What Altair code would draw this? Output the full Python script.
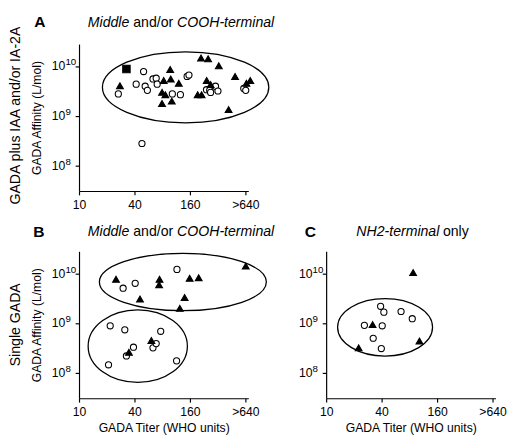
import altair as alt
import pandas as pd

FONT = "Liberation Sans"

# ---------------- data ----------------
# Panel A
a_circle_titer = [26.7, 50.2, 41.7, 52.2, 55.2, 63.5, 68.8, 70.5, 103, 126, 149, 156,
                  242, 262, 268, 303, 322, 614, 645, 48.2]
a_circle_aff = [2.8e9, 7.9e9, 4.4e9, 4.0e9, 3.3e9, 5.6e9, 5.8e9, 4.4e9, 2.8e9, 2.7e9, 6.3e9, 6.7e9,
                3.4e9, 3.3e9, 3.0e9, 4.0e9, 3.2e9, 3.6e9, 3.3e9, 2.8e8]
a_tri_titer = [27.8, 97.6, 83, 99, 121, 79.6, 86.5, 79.6, 101.5, 211, 252, 329,
               243, 268, 194, 214, 494, 420, 656, 722]
a_tri_aff = [4.1e9, 8.7e9, 5.2e9, 5.6e9, 4.6e9, 3.0e9, 2.7e9, 1.8e9, 2.0e9, 1.48e10, 1.43e10, 1.03e10,
             5.2e9, 4.3e9, 2.7e9, 2.7e9, 6.3e9, 1.35e9, 4.6e9, 5.2e9]
a_sq_titer = [32.7]
a_sq_aff = [8.9e9]

# Panel B
b_circle_titer = [30.1, 40.7, 115.6, 21.8, 31.4, 77, 20.9, 32.7, 39, 63.5, 68.8, 114.5]
b_circle_aff = [5.1e9, 6.4e9, 1.22e10, 8.9e8, 7.4e8, 6.9e8, 1.46e8, 2.2e8, 3.3e8, 3.2e8, 3.9e8, 1.75e8]
b_tri_titer = [25.2, 45.9, 74.8, 74, 124, 140, 158.8, 199, 645, 61, 34.8]
b_tri_aff = [7.7e9, 3.1e9, 7.7e9, 6.0e9, 2.0e9, 3.3e9, 8.1e9, 8.3e9, 1.42e10, 4.5e8, 2.6e8]

# Panel C
c_circle_titer = [39, 42.3, 65, 86, 26, 40.6, 32.4, 39.7]
c_circle_aff = [2.2e9, 1.68e9, 1.73e9, 1.24e9, 9.1e8, 8.9e8, 5.0e8, 3.1e8]
c_tri_titer = [87.8, 31.9, 22.5, 103]
c_tri_aff = [1.05e10, 9.4e8, 3.2e8, 4.4e8]

# ellipse centres (titer, affinity)
a_ell_center = [(143.5, 3.8e9)]
b_ell_center = [(134, 6.8e9), (43.4, 3.46e8)]
c_ell_center = [(43.6, 8.3e8)]

x_ticks = [10, 40, 160, 640]
y_ticks = [1e8, 1e9, 1e10]
y_tick_exponents = ["8", "9", "10"]

# ---------------- geometry / style ----------------
W, H = 174, 151
X_DOMAIN = [10, 688]
Y_DOMAIN = [10 ** 7.49, 10 ** 10.451]
a_ell_radii = [(85.5, 36.5)]
b_ell_radii = [(85.8, 29.5), (51, 37.3)]
c_ell_radii = [(48.8, 29.5)]

XSCALE = alt.Scale(type="log", domain=X_DOMAIN, nice=False)
YSCALE = alt.Scale(type="log", domain=Y_DOMAIN, nice=False)


def xenc(title):
    return alt.X("titer:Q", scale=XSCALE,
                 axis=alt.Axis(values=x_ticks,
                               labelExpr="datum.value > 600 ? '>640' : format(datum.value, 'd')",
                               labelFlush=False, labelOverlap=False, grid=False,
                               title=title if title else ""))


def yenc(title):
    return alt.Y("aff:Q", scale=YSCALE,
                 axis=alt.Axis(values=y_ticks, labels=False, grid=False,
                               title=title if title else ""))


def yonly():
    return alt.Y("aff:Q", scale=YSCALE)


def points(ct, ca, tt, ta, st, sa, xt, yt):
    df = pd.DataFrame({
        "titer": list(ct) + list(tt) + list(st),
        "aff": list(ca) + list(ta) + list(sa),
        "kind": ["circle"] * len(ct) + ["triangle"] * len(tt) + ["square"] * len(st),
    })
    kinds = ["circle", "triangle", "square"]
    return alt.Chart(df).mark_point(filled=True, opacity=1, stroke="black", strokeWidth=1.1).encode(
        x=xenc(xt), y=yenc(yt),
        shape=alt.Shape("kind:N", scale=alt.Scale(domain=kinds,
                                                   range=["circle", "triangle-up", "square"]), legend=None),
        fill=alt.Fill("kind:N", scale=alt.Scale(domain=kinds,
                                                 range=["white", "black", "black"]), legend=None),
        size=alt.Size("kind:N", scale=alt.Scale(domain=kinds, range=[40, 58, 36]), legend=None),
    )


def ellipse(center, radii):
    (cx, cy), (rx, ry) = center, radii
    r = ry / rx
    k = 0.5523
    path = (f"M-1,0C-1,{-k*r:.4f},{-k:.4f},{-r:.4f},0,{-r:.4f}"
            f"C{k:.4f},{-r:.4f},1,{-k*r:.4f},1,0"
            f"C1,{k*r:.4f},{k:.4f},{r:.4f},0,{r:.4f}"
            f"C{-k:.4f},{r:.4f},-1,{k*r:.4f},-1,0Z")
    return alt.Chart(pd.DataFrame({"titer": [cx], "aff": [cy]})).mark_point(
        shape=path, size=(2 * rx) ** 2, filled=False, stroke="black", strokeWidth=1.3, opacity=1
    ).encode(x=alt.X("titer:Q", scale=XSCALE), y=yonly())


def ylabels():
    df = pd.DataFrame({"aff": y_ticks, "exp": y_tick_exponents})
    base = alt.Chart(df).mark_text(align="left", baseline="middle", fontSize=12.5, font=FONT,
                                   color="black").encode(
        x=alt.value(-28), y=yonly(), text=alt.value("10"))
    sup = alt.Chart(df).mark_text(align="left", baseline="middle", fontSize=10, font=FONT,
                                  color="black", dy=-4).encode(
        x=alt.value(-14), y=yonly(), text="exp:N")
    return [base, sup]


def text(txt, x, y, size=14.5, italic=False, bold=False, align="left", angle=0, baseline="alphabetic"):
    kw = dict(align=align, baseline=baseline, fontSize=size, font=FONT, color="black",
              fontStyle="italic" if italic else "normal",
              fontWeight="bold" if bold else "normal")
    if angle:
        kw["angle"] = angle
    return alt.Chart(pd.DataFrame({"t": [txt]})).mark_text(**kw).encode(
        x=alt.value(x), y=alt.value(y), text="t:N")


def title_mid_cooh(y):
    return [text("Middle", 9, y, italic=True),
            text("and/or", 55.7, y),
            text("COOH-terminal", 100.8, y, italic=True)]


YT = "GADA Affinity (L/mol)"
XT = "GADA Titer (WHO units)"

# Panel A
A = alt.layer(
    *[ellipse(c, r) for c, r in zip(a_ell_center, a_ell_radii)],
    points(a_circle_titer, a_circle_aff, a_tri_titer, a_tri_aff, a_sq_titer, a_sq_aff, None, YT),
    *ylabels(),
    text("A", -46, -18, size=16, bold=True),
    *title_mid_cooh(-18),
    text("GADA plus IAA and/or IA-2A", -65, H / 2 - 2, size=14.5, align="center", angle=270,
         baseline="middle"),
).properties(width=W, height=H)

# Panel B
B = alt.layer(
    *[ellipse(c, r) for c, r in zip(b_ell_center, b_ell_radii)],
    points(b_circle_titer, b_circle_aff, b_tri_titer, b_tri_aff, [], [], XT, YT),
    *ylabels(),
    text("B", -47, -15, size=16, bold=True),
    *title_mid_cooh(-16),
    text("Single GADA", -65, H / 2, size=14.5, align="center", angle=270, baseline="middle"),
).properties(width=W, height=H)

# Panel C
C = alt.layer(
    *[ellipse(c, r) for c, r in zip(c_ell_center, c_ell_radii)],
    points(c_circle_titer, c_circle_aff, c_tri_titer, c_tri_aff, [], [], XT, None),
    *ylabels(),
    text("C", -22, -15, size=16, bold=True),
    text("NH2-terminal", 31, -16, italic=True),
    text("only", 120, -16),
).properties(width=W, height=H)

chart = alt.vconcat(
    A,
    alt.hconcat(B, C, spacing=80, bounds="flush"),
    spacing=62, bounds="flush",
).properties(
    padding={"left": 0, "top": 0, "right": 5, "bottom": 5}
).configure_view(stroke=None).configure_axis(
    domainColor="black", domainWidth=1.2, tickColor="black", tickSize=4, tickWidth=1.2,
    labelColor="black", labelFont=FONT, labelFontSize=12.5, labelPadding=4,
    titleColor="black", titleFont=FONT, titleFontWeight="normal",
).configure_axisY(titlePadding=32, titleFontSize=12.5).configure_axisX(titlePadding=4, titleFontSize=12.5)

chart.save("out.html", embed_options={"renderer": "svg", "actions": False})
